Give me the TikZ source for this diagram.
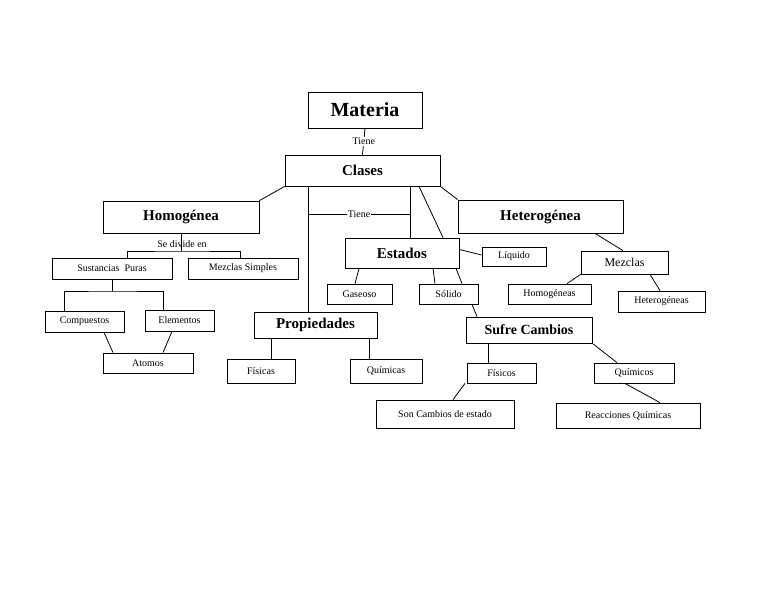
\documentclass[tikz,border=0pt]{standalone}
\usepackage{fontspec}
\setmainfont{Liberation Serif}
\begin{document}
\begin{tikzpicture}[x=1pt,y=-1pt,line width=0.8pt,
  bx/.style={draw,rectangle,inner sep=0pt,align=center},
  big/.style={font=\fontsize{20}{22}\selectfont\bfseries},
  mid/.style={font=\fontsize{15}{17}\selectfont\bfseries},
  sml/.style={font=\fontsize{10}{12}\selectfont},
  lbl/.style={font=\fontsize{10}{12}\selectfont,inner sep=1pt}]
\useasboundingbox (0,0) rectangle (768,594);
\newcommand\bx[7]{\node[bx,#6,minimum width=#4,minimum height=#5] (#1) at (#2,#3) {#7};}
\bx{mat}{365}{110}{114}{36}{big}{Materia}
\bx{cla}{362.5}{170.5}{155}{31}{mid}{Clases}
\bx{hom}{181}{217}{156}{32}{mid}{Homogénea}
\bx{het}{540.5}{216.5}{165}{33}{mid}{Heterogénea}
\bx{est}{402}{253}{114}{30}{mid}{Estados}
\bx{liq}{514}{256.5}{64}{19}{sml}{Líquido}
\bx{gas}{359.5}{294}{65}{20}{sml}{Gaseoso}
\bx{sol}{448.5}{294}{59}{20}{sml}{Sólido}
\bx{sus}{112}{268.5}{120}{21}{sml}{Sustancias\ \ Puras}
\bx{mez}{243}{268.5}{110}{21}{sml}{Mezclas Simples}
\bx{mzc}{624.5}{262.5}{87}{23}{font=\fontsize{12}{14}\selectfont}{Mezclas}
\bx{hmg}{549.5}{294}{83}{20}{sml}{Homogéneas}
\bx{htg}{661.5}{301.5}{87}{21}{sml}{Heterogéneas}
\bx{com}{84.5}{321.5}{79}{21}{sml}{Compuestos}
\bx{ele}{179.5}{320.5}{69}{21}{sml}{Elementos}
\bx{ato}{148}{363}{90}{20}{sml}{Atomos}
\bx{pro}{315.5}{325}{123}{26}{mid}{Propiedades}
\bx{fis}{261}{371}{68}{24}{sml}{Físicas}
\bx{qui}{386}{371}{72}{24}{sml}{Químicas}
\bx{suf}{529}{330}{126}{26}{font=\fontsize{14}{16}\selectfont\bfseries}{Sufre Cambios}
\bx{fso}{501.5}{373}{69}{20}{sml}{Físicos}
\bx{qmo}{634}{373}{80}{20}{sml}{Químicos}
\bx{son}{445}{414}{138}{28}{sml}{Son Cambios de estado}
\bx{rea}{628}{415.5}{144}{25}{sml}{Reacciones Químicas}
\coordinate (t1) at (308,214);
\coordinate (t2) at (410,214);
\coordinate (b1) at (181,251);
\coordinate (b2) at (112,291);
\draw (mat.south) -- node[lbl,fill=white]{Tiene} (cla.north);
\draw (cla.south west) -- (hom.north east);
\draw (cla.south east) -- (het.north west);
\draw ([xshift=-54.5]cla.south) -- ([xshift=-7.5]pro.north);
\draw (t1) -- node[lbl,fill=white]{Tiene} (t2);
\draw ([xshift=47.5]cla.south) -- ([xshift=8]est.north);
\draw ([xshift=56.5]cla.south) -- ([xshift=41]est.north);
\draw ([yshift=3.5]est.east) -- ([yshift=1.5]liq.west);
\draw ([xshift=-43]est.south) -- ([xshift=-4.5]gas.north);
\draw ([xshift=31]est.south) -- ([xshift=-13.5]sol.north);
\draw ([xshift=54]est.south) -- ([xshift=13.5]sol.north);
\draw ([xshift=23.5]sol.south) -- ([xshift=-52]suf.north);
\draw ([xshift=54.5]het.south) -- ([xshift=-1.5]mzc.north);
\draw (mzc.south west) -- ([xshift=17.5]hmg.north);
\draw ([xshift=25.5]mzc.south) -- ([xshift=-1.5]htg.north);
\draw (hom.south) -- (b1);
\node[lbl] at (182,244) {Se divide en};
\draw ([xshift=15]sus.north) |- (b1) -| ([xshift=-3]mez.north);
\draw (sus.south) -- (b2);
\draw ([xshift=-20.5]com.north) |- (b2) -| ([xshift=-16.5]ele.north);
\draw ([xshift=19.5]com.south) -- ([xshift=-35]ato.north);
\draw ([xshift=-7.5]ele.south) -- ([xshift=15]ato.north);
\draw ([xshift=-44.5]pro.south) -- ([xshift=10]fis.north);
\draw ([xshift=53.5]pro.south) -- ([xshift=-17]qui.north);
\draw ([xshift=-41]suf.south) -- ([xshift=-13.5]fso.north);
\draw (suf.south east) -- ([xshift=-17]qmo.north);
\draw ([xshift=-36.5]fso.south) -- ([xshift=8]son.north);
\draw ([xshift=-9]qmo.south) -- ([xshift=32]rea.north);
\end{tikzpicture}
\end{document}
